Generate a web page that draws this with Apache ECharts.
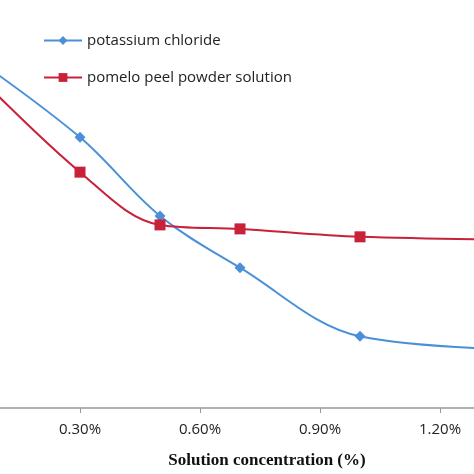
<!DOCTYPE html>
<html><head><meta charset="utf-8">
<script src="https://cdn.jsdelivr.net/npm/echarts@6/dist/echarts.min.js"></script>
<style>html,body{margin:0;padding:0;background:#fff}#c{width:474px;height:474px}</style>
</head><body><div id="c"></div>
<script>
const concentrations = [0.0, 0.3, 0.5, 0.7, 1.0, 1.5];
const potassiumChloride = [362, 272, 193, 141, 72, 58];
const pomeloPeel = [352, 237, 184, 180, 172, 169];
const tickValues = [0.3, 0.6, 0.9, 1.2];
const seriesNames = ['potassium chloride', 'pomelo peel powder solution'];
const xAxisTitle = 'Solution concentration (%)';

const chart = echarts.init(document.getElementById('c'));
chart.setOption({
  animation: false,
  grid: {left: 0, right: 0, top: 0, bottom: 64, containLabel: false},
  legend: {
    orient: 'vertical', left: 38, top: 28, itemGap: 22, itemWidth: 38, itemHeight: 11,
    textStyle: {fontFamily: 'Open Sans', fontSize: 15, color: '#222'},
    data: seriesNames
  },
  xAxis: {
    type: 'value', min: 0.1, max: 1.285,
    splitLine: {show: false},
    axisLine: {lineStyle: {color: '#999', width: 1.5}},
    axisTick: {customValues: tickValues, length: 5, lineStyle: {color: '#999'}},
    axisLabel: {customValues: tickValues, fontFamily: 'Open Sans', fontSize: 15, color: '#222', margin: 14,
      formatter: v => v.toFixed(2) + '%'},
    name: xAxisTitle, nameLocation: 'middle', nameGap: 44,
    nameTextStyle: {fontFamily: 'Liberation Serif', fontWeight: 'bold', fontSize: 17, color: '#111', padding: [0, 0, 0, 60]}
  },
  yAxis: {type: 'value', min: 0, max: 410, show: false},
  series: [
    {name: seriesNames[0], type: 'line', smooth: 0.35, clip: true,
      data: concentrations.map((x, i) => [x, potassiumChloride[i]]),
      symbol: 'diamond', symbolSize: 11,
      lineStyle: {color: '#4a90d9', width: 2}, itemStyle: {color: '#4a90d9'}},
    {name: seriesNames[1], type: 'line', smooth: 0.35, clip: true,
      data: concentrations.map((x, i) => [x, pomeloPeel[i]]),
      symbol: 'rect', symbolSize: 11,
      lineStyle: {color: '#c8213a', width: 2}, itemStyle: {color: '#c8213a'}}
  ]
});
</script></body></html>
